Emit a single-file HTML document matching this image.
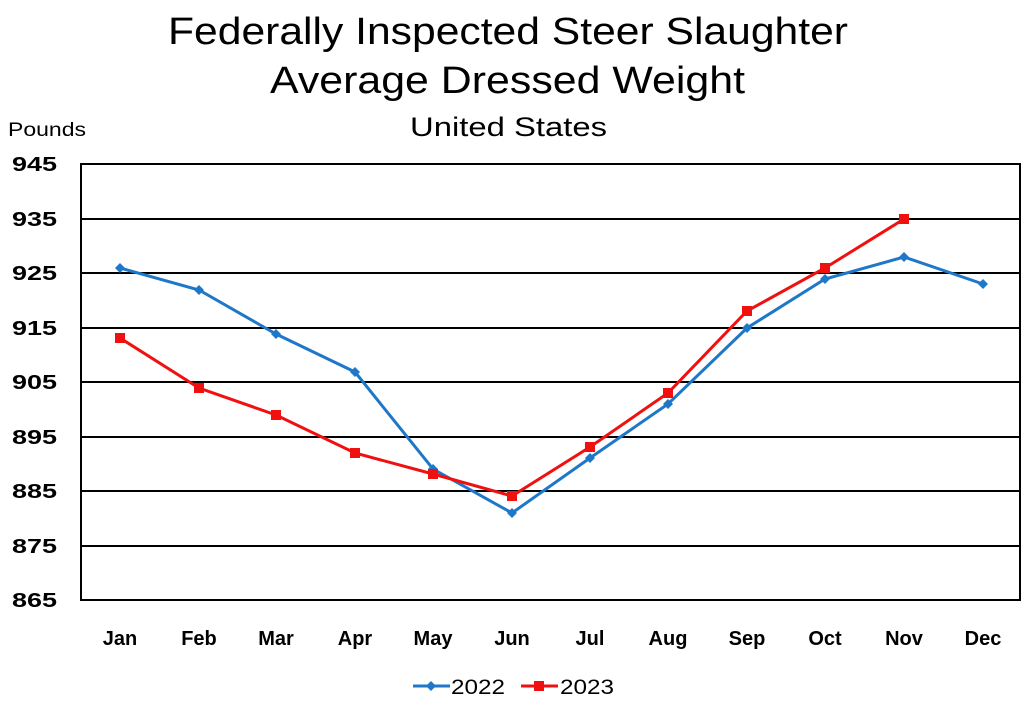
<!DOCTYPE html>
<html><head><meta charset="utf-8"><style>
body{margin:0;background:#fff;}
svg{display:block;font-family:"Liberation Sans",Arial,sans-serif;}
</style></head><body>
<svg width="1024" height="704" viewBox="0 0 1024 704" xmlns="http://www.w3.org/2000/svg">
<rect width="1024" height="704" fill="#fff"/>
<text x="168" y="44" font-size="38" textLength="680" lengthAdjust="spacingAndGlyphs">Federally Inspected Steer Slaughter</text>
<text x="270" y="93" font-size="38" textLength="475" lengthAdjust="spacingAndGlyphs">Average Dressed Weight</text>
<text x="410" y="136" font-size="27" textLength="197" lengthAdjust="spacingAndGlyphs">United States</text>
<text x="8" y="136" font-size="19" textLength="78" lengthAdjust="spacingAndGlyphs">Pounds</text>
<g stroke="#000" stroke-width="2">
<line x1="81" y1="219" x2="1020" y2="219"/>
<line x1="81" y1="273" x2="1020" y2="273"/>
<line x1="81" y1="328" x2="1020" y2="328"/>
<line x1="81" y1="382" x2="1020" y2="382"/>
<line x1="81" y1="437" x2="1020" y2="437"/>
<line x1="81" y1="491" x2="1020" y2="491"/>
<line x1="81" y1="546" x2="1020" y2="546"/>
<rect x="81" y="164" width="939" height="436" fill="none"/>
</g>
<g font-size="20" font-weight="bold">
<text x="12" y="171" textLength="45" lengthAdjust="spacingAndGlyphs">945</text>
<text x="12" y="226" textLength="45" lengthAdjust="spacingAndGlyphs">935</text>
<text x="12" y="280" textLength="45" lengthAdjust="spacingAndGlyphs">925</text>
<text x="12" y="335" textLength="45" lengthAdjust="spacingAndGlyphs">915</text>
<text x="12" y="389" textLength="45" lengthAdjust="spacingAndGlyphs">905</text>
<text x="12" y="444" textLength="45" lengthAdjust="spacingAndGlyphs">895</text>
<text x="12" y="498" textLength="45" lengthAdjust="spacingAndGlyphs">885</text>
<text x="12" y="553" textLength="45" lengthAdjust="spacingAndGlyphs">875</text>
<text x="12" y="607" textLength="45" lengthAdjust="spacingAndGlyphs">865</text>
</g>
<g font-size="20" font-weight="bold" text-anchor="middle">
<text x="120" y="645">Jan</text><text x="199" y="645">Feb</text><text x="276" y="645">Mar</text>
<text x="355" y="645">Apr</text><text x="433" y="645">May</text><text x="512" y="645">Jun</text>
<text x="590" y="645">Jul</text><text x="668" y="645">Aug</text><text x="747" y="645">Sep</text>
<text x="825" y="645">Oct</text><text x="904" y="645">Nov</text><text x="983" y="645">Dec</text>
</g>
<polyline fill="none" stroke="#1f77c8" stroke-width="3" points="120,268 199,290 276,334 355,372 433,469 512,513 590,458 668,404 747,328 825,279 904,257 983,284"/>
<g fill="#1f77c8">
<polygon points="120,263 125,268 120,273 115,268"/><polygon points="199,285 204,290 199,295 194,290"/>
<polygon points="276,329 281,334 276,339 271,334"/><polygon points="355,367 360,372 355,377 350,372"/>
<polygon points="433,464 438,469 433,474 428,469"/><polygon points="512,508 517,513 512,518 507,513"/>
<polygon points="590,453 595,458 590,463 585,458"/><polygon points="668,399 673,404 668,409 663,404"/>
<polygon points="747,323 752,328 747,333 742,328"/><polygon points="825,274 830,279 825,284 820,279"/>
<polygon points="904,252 909,257 904,262 899,257"/><polygon points="983,279 988,284 983,289 978,284"/>
</g>
<polyline fill="none" stroke="#f01010" stroke-width="3" points="120,338 199,388 276,415 355,453 433,474 512,496 590,447 668,393 747,311 825,268 904,219"/>
<g fill="#f01010">
<rect x="115" y="333" width="10" height="10"/><rect x="194" y="383" width="10" height="10"/>
<rect x="271" y="410" width="10" height="10"/><rect x="350" y="448" width="10" height="10"/>
<rect x="428" y="469" width="10" height="10"/><rect x="507" y="491" width="10" height="10"/>
<rect x="585" y="442" width="10" height="10"/><rect x="663" y="388" width="10" height="10"/>
<rect x="742" y="306" width="10" height="10"/><rect x="820" y="263" width="10" height="10"/>
<rect x="899" y="214" width="10" height="10"/>
</g>
<line x1="413" y1="686" x2="450" y2="686" stroke="#1f77c8" stroke-width="3"/>
<polygon points="431,681 436,686 431,691 426,686" fill="#1f77c8"/>
<text x="451" y="694" font-size="21" textLength="54" lengthAdjust="spacingAndGlyphs">2022</text>
<line x1="521" y1="686" x2="558" y2="686" stroke="#f01010" stroke-width="3"/>
<rect x="534" y="681" width="10" height="10" fill="#f01010"/>
<text x="560" y="694" font-size="21" textLength="54" lengthAdjust="spacingAndGlyphs">2023</text>
</svg>
</body></html>
